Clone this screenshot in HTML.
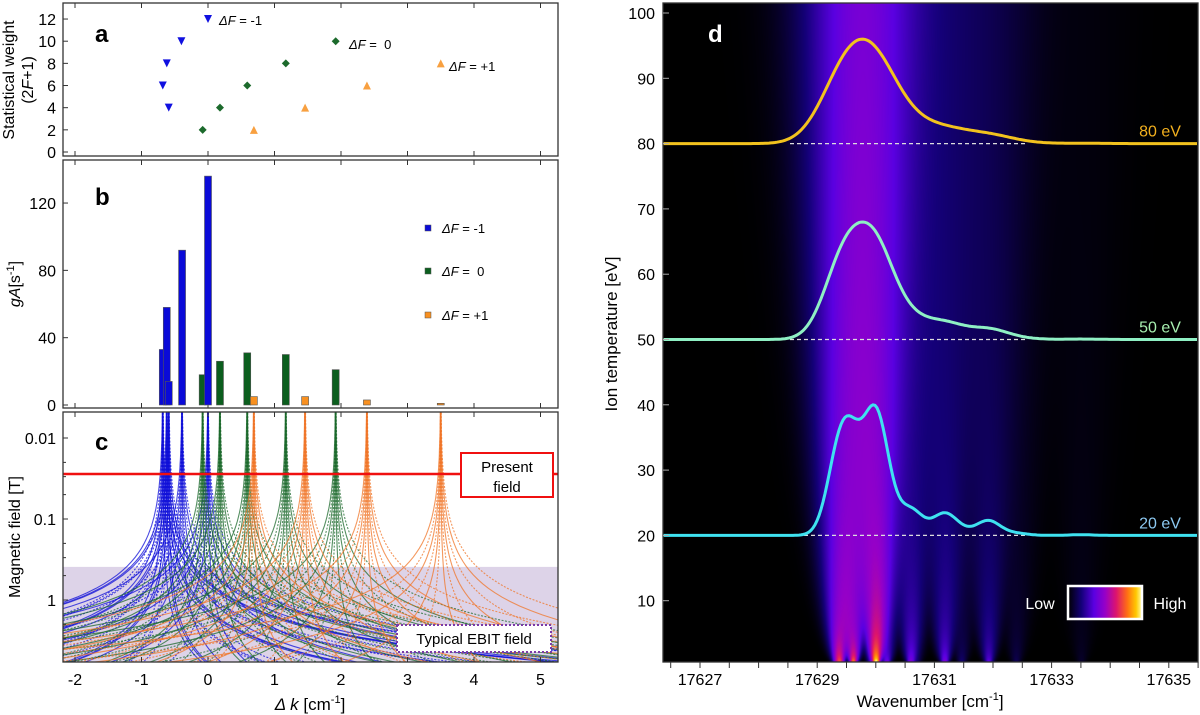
<!DOCTYPE html>
<html><head><meta charset="utf-8"><style>
body{margin:0;background:#fff;width:1200px;height:715px;overflow:hidden;position:relative;font-family:"Liberation Sans",sans-serif}
#hm{position:absolute;left:663px;top:3px}
#ov{position:absolute;left:0;top:0}
</style></head><body>
<canvas id="hm" width="535" height="659"></canvas>
<svg id="ov" width="1200" height="715" xmlns="http://www.w3.org/2000/svg" font-family="Liberation Sans, sans-serif"></svg>
<script>
// ---- data ----
const blueK=[-0.68,-0.62,-0.59,-0.39,0.0];
const blueGA=[33,58,14,92,136];
const greenK=[-0.08,0.18,0.59,1.17,1.92];
const greenGA=[18,26,31,30,21];
const orangeK=[0.69,1.46,2.39,3.5];
const orangeGA=[5,5,3,1];
const blueW=[12,10,8,6,4];
const greenW=[2,4,6,8,10];
const orangeW=[2,4,6,8];
const blueWK=[0.0,-0.4,-0.62,-0.68,-0.59];
const greenWK=[-0.08,0.18,0.59,1.17,1.92];
const orangeWK=[0.69,1.46,2.39,3.5];
const zeemanSlopes=[-1.4,-1.0,-0.7,-0.45,-0.25,-0.1,0.1,0.25,0.45,0.7,1.0,1.4];
const xTicks=[-2,-1,0,1,2,3,4,5];
const aTicks=[0,2,4,6,8,10,12];
const bTicks=[0,40,80,120];
const cTicks=[0.01,0.1,1];
const tempTicks=[10,20,30,40,50,60,70,80,90,100];
const wnTicks=[17627,17629,17631,17633,17635];
const curveT=[80,50,20];
const curvePeak=[16,18,20];
const curveColors=['#f2c21e','#8ff0c4','#3fe2f0'];
const curveLabels=['80 eV','50 eV','20 eV'];
const labelColors=['#f2b01e','#a8f0b0','#8cc8f0'];
const lineCenter=17630.0;

// ---- scales ----
const X=k=>208+k*66.5;
const YA=w=>152-w*11.08;
const YB=v=>405-v*1.683;
const YC=B=>519+(Math.log10(B)+1)*81;
const XD=w=>700+(w-17627)*58.6;
const YD=t=>666-t*6.53;

const svg=document.getElementById('ov');
const NS='http://www.w3.org/2000/svg';
function mk(tag,attrs,parent){const e=document.createElementNS(NS,tag);for(const k in attrs)e.setAttribute(k,attrs[k]);(parent||svg).appendChild(e);return e;}
function txt(s,x,y,attrs,parent){const e=mk('text',Object.assign({x:x,y:y,'font-size':16},attrs||{}),parent);e.innerHTML=s;return e;}

const pa=mk('g',{});
const pb=mk('g',{});
const pc=mk('g',{});
const pd=mk('g',{});

const cp=mk('clipPath',{id:'cc'});
mk('rect',{x:63,y:412,width:495,height:250},cp);
const shade=mk('rect',{x:63,y:YC(0.39),width:495,height:662-YC(0.39),fill:'#ddd3e8'},pc);

const cg=mk('g',{'clip-path':'url(#cc)'},pc);
function fans(ks,col){
  ks.forEach(k0=>{
    zeemanSlopes.forEach((s,i)=>{
      let d='';
      for(let j=0;j<=60;j++){const lb=-2.4+j*(3.3/60);const B=Math.pow(10,lb);const x=X(k0+s*B);d+=(j?'L':'M')+x.toFixed(1)+' '+YC(B).toFixed(1);}
      const p=mk('path',{d:d,fill:'none',stroke:col,'stroke-width':1.1,'stroke-dasharray':i%2?'2 1.5':'none',opacity:0.75},cg);
      
    });
  });
}
fans(blueK,'#1010d8');fans(greenK,'#1c6a2c');fans(orangeK,'#f07628');
const redl=mk('line',{x1:63,x2:558,y1:474,y2:474,stroke:'#f01010','stroke-width':2.5},pc);

const pfb=mk('rect',{x:461,y:453,width:92,height:44,fill:'#fff',stroke:'#f01010','stroke-width':2},pc);

txt('Present',507,472,{'text-anchor':'middle','font-size':15},pc);
txt('field',507,492,{'text-anchor':'middle','font-size':15},pc);
const eb=mk('rect',{x:397,y:625,width:154,height:27,fill:'#fff',stroke:'#7a3aa8','stroke-width':2,'stroke-dasharray':'2 2'},pc);

txt('Typical EBIT field',474,644,{'text-anchor':'middle','font-size':15},pc);

[[3,156,pa],[160,408,pb],[412,662,pc]].forEach(([y0,y1,g])=>{
  mk('rect',{x:63,y:y0,width:495,height:y1-y0,fill:'none',stroke:'#333','stroke-width':1.3},g);
  xTicks.forEach(t=>{mk('line',{x1:X(t),x2:X(t),y1:y1,y2:y1-5,stroke:'#333'},g);mk('line',{x1:X(t),x2:X(t),y1:y0,y2:y0+5,stroke:'#333'},g);});
});
xTicks.forEach(t=>{const e=txt(t,X(t),685,{'text-anchor':'middle','font-size':16});});
txt('<tspan font-style="italic">Δ k</tspan> [cm<tspan dy="-7" font-size="11">-1</tspan><tspan dy="7">]</tspan>',310,710,{'text-anchor':'middle','font-size':17});

// panel a
aTicks.forEach(t=>{mk('line',{x1:63,x2:68,y1:YA(t),y2:YA(t),stroke:'#333'},pa);txt(t,56,YA(t)+6,{'text-anchor':'end'},pa);});
txt('a',95,42,{'font-size':24,'font-weight':'bold'},pa);
function marker(type,x,y,col,g){
  let p;
  if(type==='down')p=mk('polygon',{points:`${x-4},${y-4} ${x+4},${y-4} ${x},${y+4}`,fill:col},g);
  else if(type==='dia')p=mk('polygon',{points:`${x},${y-4} ${x+4},${y} ${x},${y+4} ${x-4},${y}`,fill:col},g);
  else p=mk('polygon',{points:`${x-4},${y+4} ${x+4},${y+4} ${x},${y-4}`,fill:col},g);
  
}
blueW.forEach((w,i)=>marker('down',X(blueWK[i]),YA(w),'#1010e0',pa));
greenW.forEach((w,i)=>marker('dia',X(greenWK[i]),YA(w),'#1c6a2c',pa));
orangeW.forEach((w,i)=>marker('up',X(orangeWK[i]),YA(w),'#f8a040',pa));
txt('<tspan font-style="italic">ΔF</tspan> = -1',219,25,{'font-size':13},pa);
txt('<tspan font-style="italic">ΔF</tspan> =&#160; 0',349,49,{'font-size':13},pa);
txt('<tspan font-style="italic">ΔF</tspan> = +1',449,71,{'font-size':13},pa);
txt('Statistical weight',0,0,{'font-size':16,'text-anchor':'middle',transform:'translate(14,80) rotate(-90)'},pa);
txt('(2<tspan font-style="italic">F</tspan>+1)',0,0,{'font-size':16,'text-anchor':'middle',transform:'translate(33,80) rotate(-90)'},pa);

// panel b
bTicks.forEach(t=>{mk('line',{x1:63,x2:68,y1:YB(t),y2:YB(t),stroke:'#333'},pb);txt(t,56,YB(t)+6,{'text-anchor':'end'},pb);});
txt('b',95,205,{'font-size':24,'font-weight':'bold'},pb);
function bars(ks,vs,col){ks.forEach((k,i)=>{const b=mk('rect',{x:X(k)-3.5,y:YB(vs[i]),width:7,height:YB(0)-YB(vs[i]),fill:col,stroke:'#555','stroke-width':0.6},pb);});}
bars(greenK,greenGA,'#0b5e1e');bars(blueK,blueGA,'#0a0ad8');bars(orangeK,orangeGA,'#f89020');
[['#0a0ad8','-1',229],['#0b5e1e','&#160;0',272],['#f89020','+1',316]].forEach(([c,l,y])=>{
  const s=mk('rect',{x:425,y:y-4,width:6,height:6,fill:c,stroke:'#555','stroke-width':0.5},pb);
  txt('<tspan font-style="italic">ΔF</tspan> = '+l,442,y+4,{'font-size':13},pb);
});
txt('<tspan font-style="italic">gA</tspan>[s<tspan dy="-6" font-size="11">-1</tspan><tspan dy="6">]</tspan>',0,0,{'font-size':16,'text-anchor':'middle',transform:'translate(20,284) rotate(-90)'},pb);

// panel c axis
cTicks.forEach(t=>{mk('line',{x1:63,x2:68,y1:YC(t),y2:YC(t),stroke:'#333'},pc);txt(t,56,YC(t)+6,{'text-anchor':'end'},pc);});
[0.02,0.03,0.05,0.2,0.3,0.5,2,3].forEach(t=>mk('line',{x1:63,x2:66,y1:YC(t),y2:YC(t),stroke:'#333'},pc));
txt('c',95,450,{'font-size':24,'font-weight':'bold'},pc);
txt('Magnetic field [T]',0,0,{'font-size':16,'text-anchor':'middle',transform:'translate(20,537) rotate(-90)'},pc);

// ---- panel d heatmap ----
const allK=blueK.concat(greenK,orangeK), allG=blueGA.concat(greenGA,orangeGA);
const sig=T=>0.045*Math.sqrt(Math.max(T,0.4));
function spec(w,T){const s=sig(T);let I=0;for(let i=0;i<allK.length;i++){const d=w-(lineCenter+allK[i]);I+=allG[i]*Math.exp(-d*d/(2*s*s));}return I;}
const stops=[[0,0,0,0],[0.18,20,0,120],[0.35,90,0,225],[0.5,150,0,200],[0.65,220,20,110],[0.8,255,110,20],[0.92,255,200,0],[1,255,255,170]];
function cmap(v){v=Math.max(0,Math.min(1,v));for(let i=1;i<stops.length;i++){if(v<=stops[i][0]){const a=stops[i-1],b=stops[i],f=(v-a[0])/(b[0]-a[0]);return [a[1]+f*(b[1]-a[1]),a[2]+f*(b[2]-a[2]),a[3]+f*(b[3]-a[3])];}}return stops[7].slice(1);}
const cv=document.getElementById('hm'),ctx=cv.getContext('2d'),img=ctx.createImageData(535,659);
for(let py=0;py<659;py++){const T=(666-(py+3))/6.53;const f=0.045/sig(T);
  for(let px=0;px<535;px++){const w=17627+(px+663-700)/58.6;const v=Math.pow(spec(w,T)*f/150,0.55);const c=cmap(v);const o=(py*535+px)*4;img.data[o]=c[0];img.data[o+1]=c[1];img.data[o+2]=c[2];img.data[o+3]=255;}}
ctx.putImageData(img,0,0);

curveT.forEach((T,ci)=>{
  let mx=0;const pts=[];
  for(let x=663;x<=1198;x+=2){const w=17627+(x-700)/58.6;const v=spec(w,T);pts.push([x,v]);if(v>mx)mx=v;}
  const db=mk('line',{x1:790,x2:1025,y1:YD(T),y2:YD(T),stroke:'#ddd','stroke-width':1.2,'stroke-dasharray':'4 3'},pd);
  
  let d='';pts.forEach((p,i)=>{d+=(i?'L':'M')+p[0]+' '+YD(T+curvePeak[ci]*p[1]/mx).toFixed(1);});
  const c=mk('path',{d:d,fill:'none',stroke:curveColors[ci],'stroke-width':3},pd);
  
  txt(curveLabels[ci],1160,YD(T)-7,{'text-anchor':'middle',fill:labelColors[ci],'font-size':16},pd);
});
mk('rect',{x:663,y:3,width:535,height:659,fill:'none',stroke:'#333','stroke-width':1.3},pd);
tempTicks.forEach(t=>{mk('line',{x1:663,x2:669,y1:YD(t),y2:YD(t),stroke:'#aaa'},pd);txt(t,655,YD(t)+6,{'text-anchor':'end'},pd);});
for(let w=17626.5;w<=17635.5;w+=0.5){mk('line',{x1:XD(w),x2:XD(w),y1:662,y2:668,stroke:'#333'},pd);}
wnTicks.forEach(t=>txt(t,XD(t),685,{'text-anchor':'middle'},pd));
txt('Wavenumber [cm<tspan dy="-7" font-size="11">-1</tspan><tspan dy="7">]</tspan>',930,707,{'text-anchor':'middle','font-size':17},pd);
txt('Ion temperature [eV]',0,0,{'font-size':17,'text-anchor':'middle',transform:'translate(617,334) rotate(-90)'},pd);
txt('d',708,42,{'font-size':24,'font-weight':'bold',fill:'#fff'},pd);
const gdef=mk('linearGradient',{id:'cb',x1:0,x2:1,y1:0,y2:0});
[0,0.18,0.35,0.5,0.65,0.8,0.92,1].forEach(o=>{const c=cmap(o);mk('stop',{offset:o,'stop-color':`rgb(${c.map(Math.round).join(',')})`},gdef);});
const cb=mk('rect',{x:1068,y:586,width:74,height:33,fill:'url(#cb)',stroke:'#fff','stroke-width':2.5},pd);

txt('Low',1040,609,{'text-anchor':'middle',fill:'#fff'},pd);
txt('High',1170,609,{'text-anchor':'middle',fill:'#fff'},pd);
</script>
</body></html>
